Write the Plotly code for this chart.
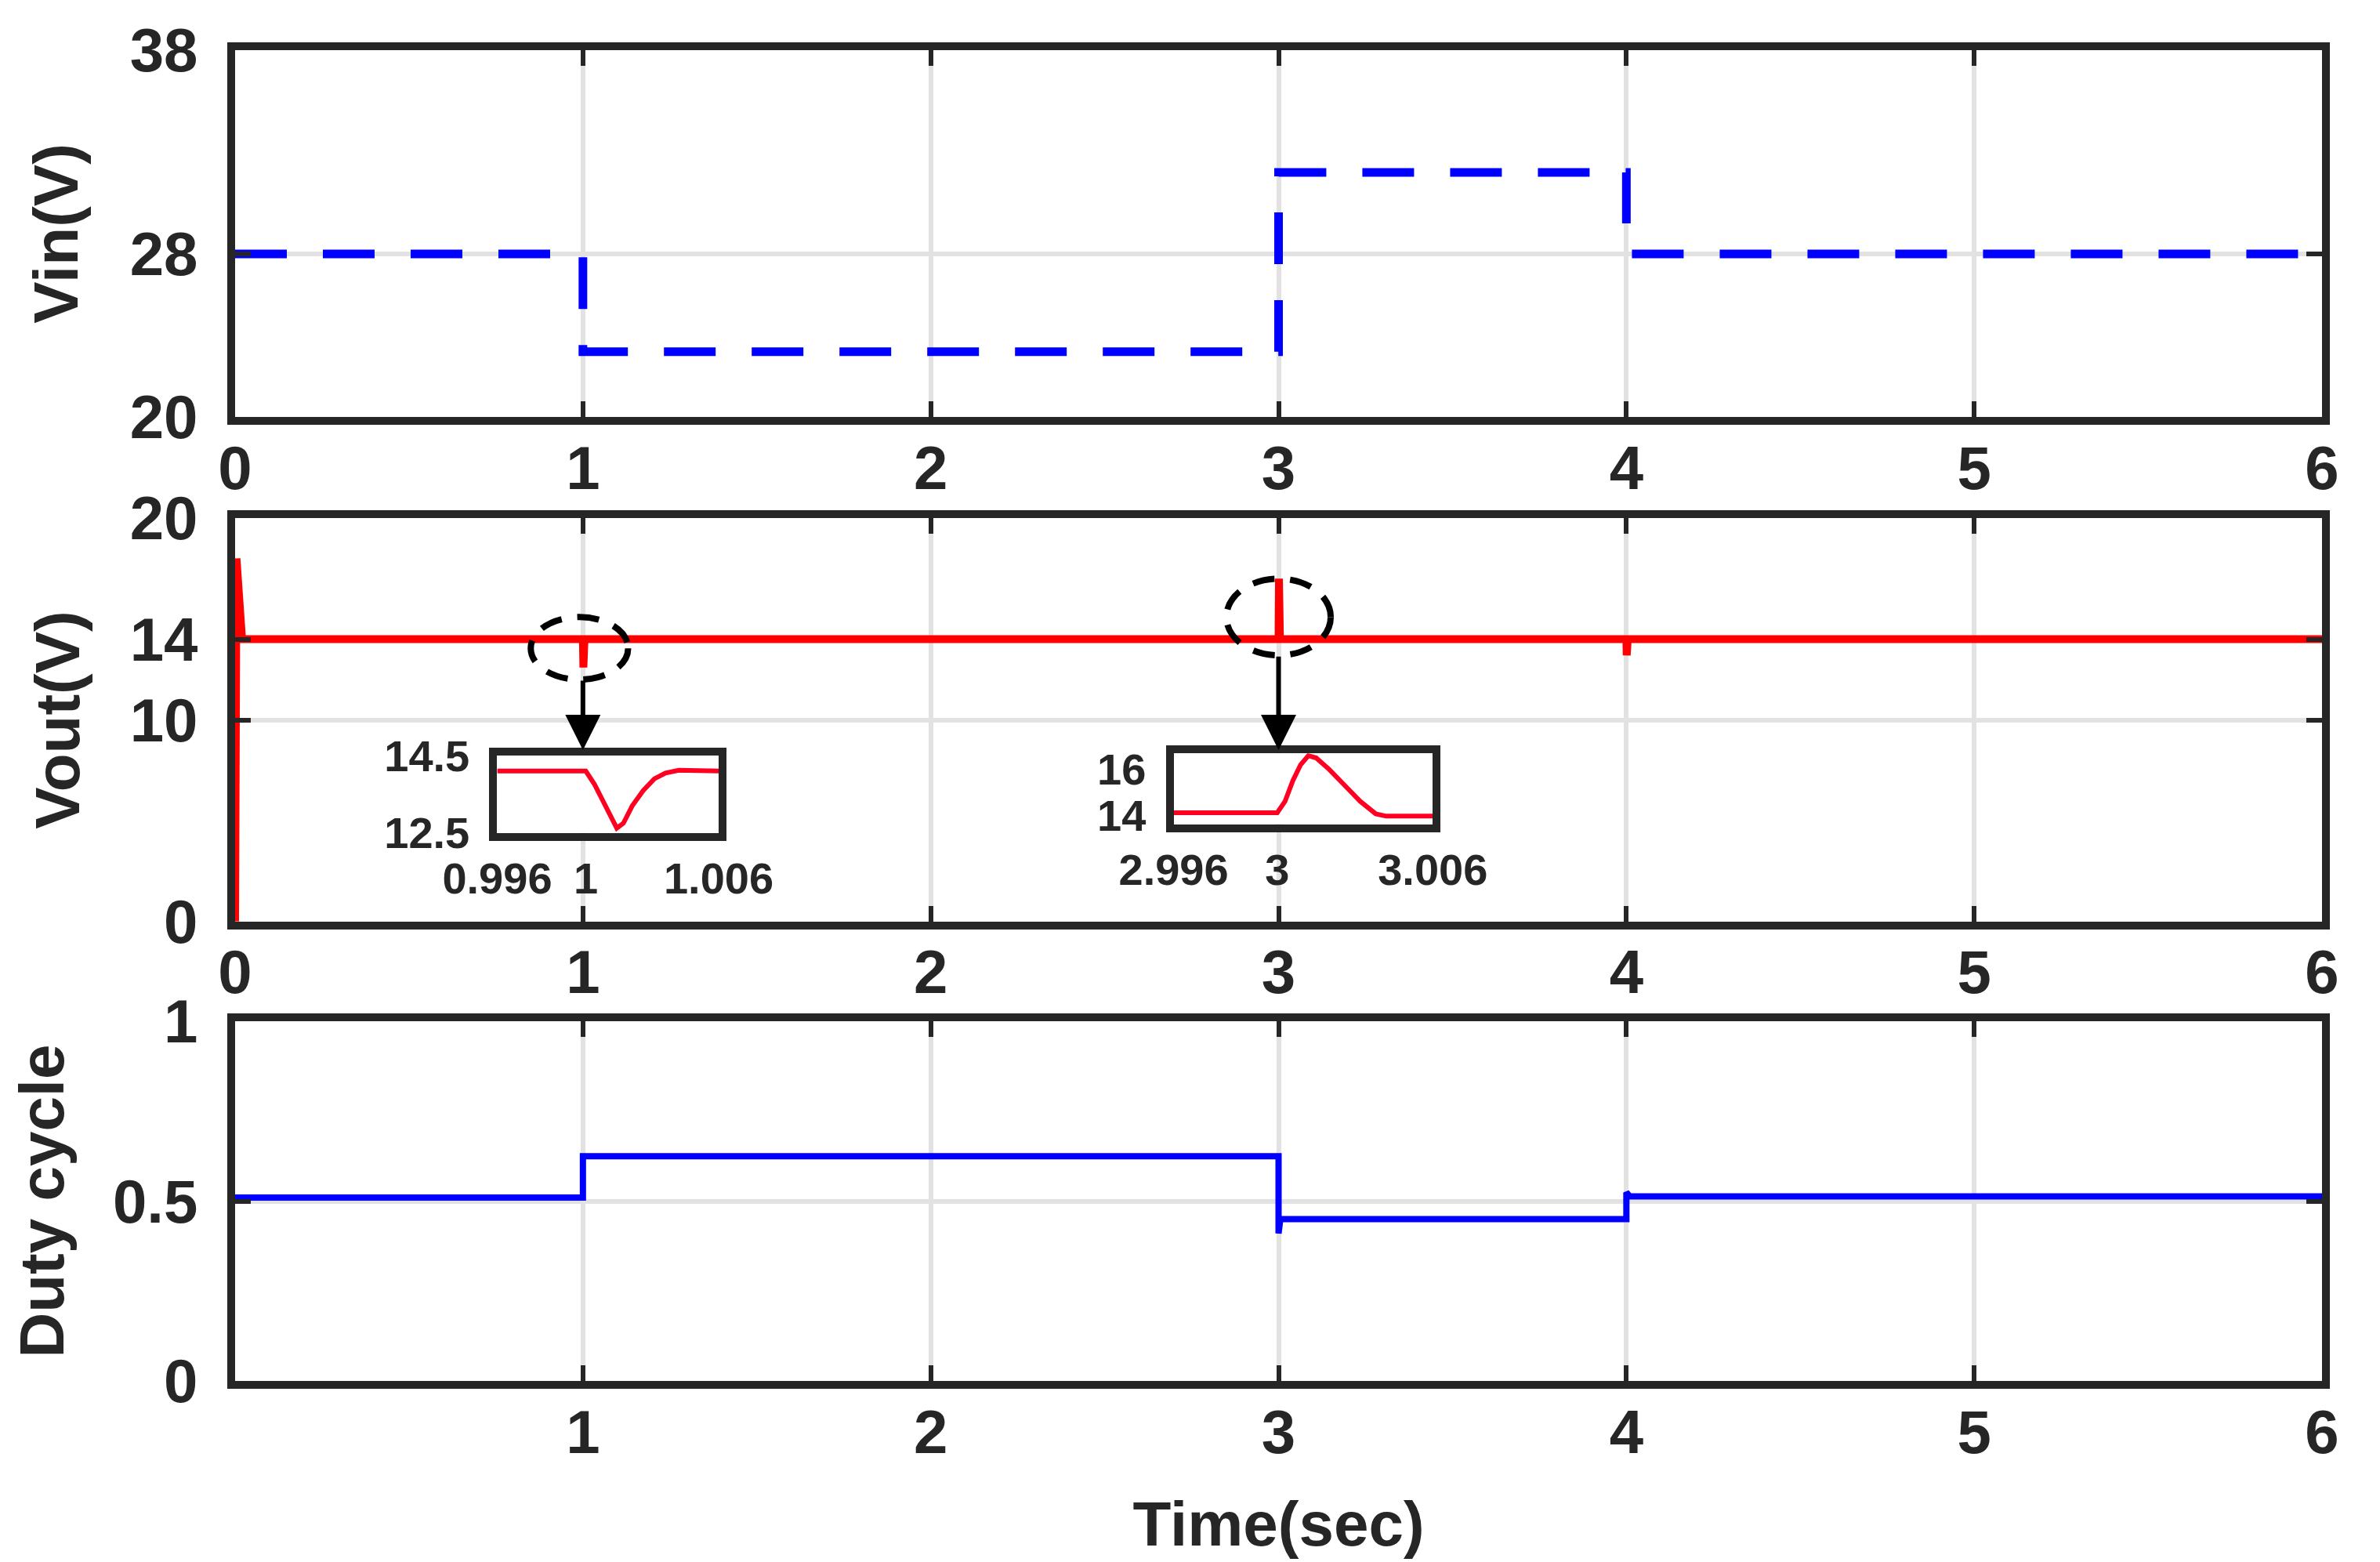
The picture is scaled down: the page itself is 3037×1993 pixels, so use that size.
import plotly.graph_objects as go

# ---------------- data ----------------
vin_t = [0, 1, 1, 3, 3, 4, 4, 6]
vin_v = [28, 28, 23.2, 23.2, 32, 32, 28, 28]

vout_t = [0, 0.004, 0.02, 1.0, 1.0014, 1.0045, 3.0, 3.0012, 3.004, 4.0, 4.001, 4.004, 6.0]
vout_v = [0, 18.0, 14.0, 14.0, 12.6, 14.0, 14.0, 17.0, 14.0, 14.0, 13.2, 14.0, 14.0]

duty_t = [0, 1.0, 1.0, 3.0, 3.0, 3.005, 4.0, 4.0, 4.01, 6.0]
duty_v = [0.51, 0.51, 0.625, 0.625, 0.41, 0.45, 0.45, 0.524, 0.513, 0.513]

zoom1_t = [0.996, 1.0, 1.0004, 1.0008, 1.0012, 1.0014, 1.0017, 1.0021, 1.0026, 1.0031,
           1.0036, 1.0042, 1.006]
zoom1_v = [14.1, 14.1, 13.75, 13.3, 12.8, 12.62, 12.75, 13.2, 13.6, 13.9,
           14.05, 14.12, 14.1]

zoom2_t = [2.996, 3.0, 3.0003, 3.0006, 3.0009, 3.0012, 3.0015, 3.002, 3.0026, 3.0032,
           3.0038, 3.0042, 3.006]
zoom2_v = [14.1, 14.1, 14.6, 15.5, 16.2, 16.6, 16.5, 16.0, 15.3, 14.6,
           14.05, 13.95, 13.95]

time_ticks = [0, 1, 2, 3, 4, 5, 6]
duty_time_ticks = [1, 2, 3, 4, 5, 6]
vin_ticks = [20, 28, 38]
vout_ticks = [0, 10, 14, 20]
duty_ticks = [0, 0.5, 1]
duty_ticktext = ["0", "0.5", "1"]
zoom1_xticks = [0.996, 1.0, 1.006]
zoom1_xtext = ["0.996", "1", "1.006"]
zoom1_yticks = [12.5, 14.5]
zoom2_xticks = [2.996, 3.0, 3.006]
zoom2_xtext = ["2.996", "3", "3.006"]
zoom2_yticks = [14, 16]

# ---------------- styling ----------------
FONT = "Liberation Sans, Arial, sans-serif"
AXC = "#262626"
GRIDC = "#e2e2e2"
tick_font = dict(family=FONT, size=78, color=AXC, weight="bold")
title_font = dict(family=FONT, size=80, color=AXC, weight="bold")
inset_font = dict(family=FONT, size=56, color=AXC, weight="bold")

fig = go.Figure()
fig.add_trace(go.Scatter(x=vin_t, y=vin_v, mode="lines", xaxis="x", yaxis="y",
                         line=dict(color="#0000ff", width=11, dash="66px,46px"),
                         showlegend=False))
fig.add_trace(go.Scatter(x=vout_t, y=vout_v, mode="lines", xaxis="x2", yaxis="y2",
                         line=dict(color="#ff0000", width=10), showlegend=False))
fig.add_trace(go.Scatter(x=duty_t, y=duty_v, mode="lines", xaxis="x3", yaxis="y3",
                         line=dict(color="#0000ff", width=8), showlegend=False))
fig.add_trace(go.Scatter(x=zoom1_t, y=zoom1_v, mode="lines", xaxis="x4", yaxis="y4",
                         line=dict(color="#ff0022", width=6), showlegend=False))
fig.add_trace(go.Scatter(x=zoom2_t, y=zoom2_v, mode="lines", xaxis="x5", yaxis="y5",
                         line=dict(color="#ff0022", width=6), showlegend=False))

main_x = dict(range=[0, 6], showline=True, linewidth=10, linecolor=AXC, mirror="ticks",
              ticks="inside", ticklen=20, tickwidth=6, tickcolor=AXC,
              showgrid=True, gridcolor=GRIDC, gridwidth=6, zeroline=False,
              tickfont=tick_font, ticklabelstandoff=-12)
main_y = dict(showline=True, linewidth=10, linecolor=AXC, mirror="ticks",
              ticks="inside", ticklen=20, tickwidth=6, tickcolor=AXC,
              showgrid=True, gridcolor=GRIDC, gridwidth=6, zeroline=False,
              tickfont=tick_font, ticklabelstandoff=22)
inset_x = dict(showline=True, linewidth=10, linecolor=AXC, mirror=True, ticks="",
               showgrid=False, zeroline=False, tickfont=inset_font, ticklabelstandoff=0)
inset_y = dict(showline=True, linewidth=10, linecolor=AXC, mirror=True, ticks="",
               showgrid=False, zeroline=False, tickfont=inset_font, ticklabelstandoff=14)

fig.update_layout(
    width=3037, height=1993,
    margin=dict(l=292, r=39, t=45, b=239),
    paper_bgcolor="white", plot_bgcolor="white",
    xaxis=dict(main_x, domain=[0, 1], anchor="y", tickvals=time_ticks),
    yaxis=dict(main_y, domain=[0.7244, 1.0], anchor="x", range=[20, 38], tickvals=vin_ticks,
               title=dict(text="Vin(V)", font=title_font, standoff=44)),
    xaxis2=dict(main_x, domain=[0, 1], anchor="y2", tickvals=time_ticks),
    yaxis2=dict(main_y, domain=[0.3452, 0.6483], anchor="x2", range=[0, 20], tickvals=vout_ticks,
                title=dict(text="Vout(V)", font=title_font, standoff=42)),
    xaxis3=dict(main_x, domain=[0, 1], anchor="y3", tickvals=duty_time_ticks,
                title=dict(text="Time(sec)", font=title_font, standoff=50)),
    yaxis3=dict(main_y, domain=[0, 0.2703], anchor="x3", range=[0, 1], tickvals=duty_ticks,
                ticktext=duty_ticktext,
                title=dict(text="Duty cycle", font=title_font, standoff=40)),
    xaxis4=dict(inset_x, domain=[0.1256, 0.2317], anchor="y4", range=[0.996, 1.006],
                tickvals=zoom1_xticks, ticktext=zoom1_xtext),
    yaxis4=dict(inset_y, domain=[0.4119, 0.4699], anchor="x4", range=[12.5, 14.5],
                tickvals=zoom1_yticks),
    xaxis5=dict(inset_x, domain=[0.4497, 0.5739], anchor="y5", range=[2.996, 3.006],
                tickvals=zoom2_xticks, ticktext=zoom2_xtext),
    yaxis5=dict(inset_y, domain=[0.4184, 0.4716], anchor="x5", range=[13.6, 16.7],
                tickvals=zoom2_yticks),
)

# dashed ellipses marking the transients
ell_dash = "28px,20px"
fig.add_shape(type="circle", xref="x2", yref="y2", x0=0.85, x1=1.13, y0=12.0, y1=15.1,
              line=dict(color="black", width=8, dash=ell_dash))
fig.add_shape(type="circle", xref="x2", yref="y2", x0=2.85, x1=3.15, y0=13.2, y1=17.0,
              line=dict(color="black", width=8, dash=ell_dash))

# arrows from the ellipses to the zoomed insets
for xa, y_tail, y_head in [(1.0, 12.0, 8.5), (3.0, 13.2, 8.5)]:
    fig.add_annotation(x=xa, y=y_head, ax=xa, ay=y_tail, xref="x2", yref="y2",
                       axref="x2", ayref="y2", text="", showarrow=True,
                       arrowhead=2, arrowsize=1.5, arrowwidth=6, arrowcolor="black",
                       standoff=0, startstandoff=0)

fig.write_html("out.html")
